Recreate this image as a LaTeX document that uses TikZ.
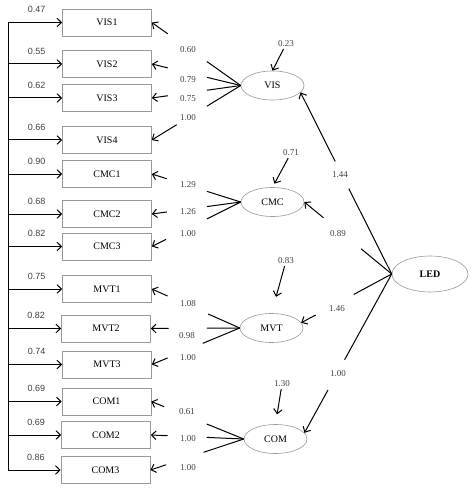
\documentclass[tikz,border=0pt]{standalone}
\usepackage{fontspec}
\setmainfont{Liberation Serif}
\newfontfamily\errfont{Liberation Sans}
\usepackage{tikz}
\usetikzlibrary{shapes.geometric}
\usetikzlibrary{arrows.meta}
\usetikzlibrary{calc}
\definecolor{boxgray}{rgb}{0.6,0.6,0.6}
\definecolor{textgray}{rgb}{0.25,0.25,0.25}

\begin{document}
\begin{tikzpicture}[
            > = {Straight Barb[length=4.5pt, width=8.5pt]}, % open arrow head
            x = 1pt, y = -1pt, % pixel grid, y runs down
            line width = 1pt % line style
        ]

        \tikzstyle{obs}=[
            draw = boxgray,
            line width = 0.6pt,
            minimum width = 89pt,
            minimum height = 27pt,
            inner sep = 0pt,
            font = \fontsize{10}{12}\selectfont
        ]
        \tikzstyle{lat}=[
            ellipse,
            draw = boxgray,
            line width = 0.6pt,
            minimum width = 63pt,
            minimum height = 29pt,
            inner sep = 0pt,
            font = \fontsize{10}{12}\selectfont
        ]
        \tikzstyle{err}=[font = \errfont\fontsize{9}{10}\selectfont, text = textgray, above = 6pt, xshift = 1.5pt]
        \tikzstyle{coef}=[font = \fontsize{9}{10}\selectfont, text = textgray, inner sep = 1.5pt]

        \useasboundingbox (0,0) rectangle (474,489);

	% indicators
        \node[obs] (VIS1) at (107,22.5) {VIS1};
        \node[obs] (VIS2) at (107,64) {VIS2};
        \node[obs] (VIS3) at (107,98) {VIS3};
        \node[obs] (VIS4) at (107,140) {VIS4};
        \node[obs] (CMC1) at (107,174) {CMC1};
        \node[obs] (CMC2) at (107,214) {CMC2};
        \node[obs] (CMC3) at (107,246.5) {CMC3};
        \node[obs] (MVT1) at (107,289) {MVT1};
        \node[obs] (MVT2) at (106,328.5) {MVT2};
        \node[obs] (MVT3) at (107,364.5) {MVT3};
        \node[obs] (COM1) at (106.5,401.5) {COM1};
        \node[obs] (COM2) at (106,435) {COM2};
        \node[obs] (COM3) at (105.5,470) {COM3};

        % factors
        \node[lat] (VIS) at (272.5,85.5) {VIS};
        \node[lat] (CMC) at (272.5,202) {CMC};
        \node[lat] (MVT) at (271.5,328) {MVT};
        \node[lat] (COM) at (275.5,439) {COM};
        \node[lat, minimum width = 76pt, minimum height = 36pt,
              font = \fontsize{10}{12}\selectfont\bfseries] (LED) at (430,274) {LED};

        % error terms
        \coordinate (E) at (8,0);
        \draw (E |- VIS1.west) -- (E |- COM3.west);
        \draw[->] (E |- VIS1.west) -- node[err] {0.47} (VIS1.west);
        \draw[->] (E |- VIS2.west) -- node[err] {0.55} (VIS2.west);
        \draw[->] (E |- VIS3.west) -- node[err] {0.62} (VIS3.west);
        \draw[->] (E |- VIS4.west) -- node[err] {0.66} (VIS4.west);
        \draw[->] (E |- CMC1.west) -- node[err] {0.90} (CMC1.west);
        \draw[->] (E |- CMC2.west) -- node[err] {0.68} (CMC2.west);
        \draw[->] (E |- CMC3.west) -- node[err] {0.82} (CMC3.west);
        \draw[->] (E |- MVT1.west) -- node[err] {0.75} (MVT1.west);
        \draw[->] (E |- MVT2.west) -- node[err] {0.82} (MVT2.west);
        \draw[->] (E |- MVT3.west) -- node[err] {0.74} (MVT3.west);
        \draw[->] (E |- COM1.west) -- node[err] {0.69} (COM1.west);
        \draw[->] (E |- COM2.west) -- node[err] {0.69} (COM2.west);
        \draw[->] (E |- COM3.west) -- node[err] {0.86} (COM3.west);

        % loadings
        \draw (VIS.west) -- ($(VIS.west)!.38!(VIS1.east)$);
        \draw[->] ($(VIS.west)!.82!(VIS1.east)$) -- (VIS1.east);
        \draw (VIS.west) -- ($(VIS.west)!.38!(VIS2.east)$);
        \draw[->] ($(VIS.west)!.82!(VIS2.east)$) -- (VIS2.east);
        \draw (VIS.west) -- ($(VIS.west)!.38!(VIS3.east)$);
        \draw[->] ($(VIS.west)!.82!(VIS3.east)$) -- (VIS3.east);
        \draw (VIS.west) -- ($(VIS.west)!.38!(VIS4.east)$);
        \draw[->] ($(VIS.west)!.72!(VIS4.east)$) -- (VIS4.east);

        \draw (CMC.west) -- ($(CMC.west)!.38!(CMC1.east)$);
        \draw[->] ($(CMC.west)!.83!(CMC1.east)$) -- (CMC1.east);
        \draw (CMC.west) -- ($(CMC.west)!.38!(CMC2.east)$);
        \draw[->] ($(CMC.west)!.83!(CMC2.east)$) -- (CMC2.east);
        \draw (CMC.west) -- ($(CMC.west)!.38!(CMC3.east)$);
        \draw[->] ($(CMC.west)!.84!(CMC3.east)$) -- (CMC3.east);

        \draw (MVT.west) -- ($(MVT.west)!.36!(MVT1.east)$);
        \draw[->] ($(MVT.west)!.82!(MVT1.east)$) -- (MVT1.east);
        \draw (MVT.west) -- ($(MVT.west)!.37!(MVT2.east)$);
        \draw[->] ($(MVT.west)!.80!(MVT2.east)$) -- (MVT2.east);
        \draw (MVT.west) -- ($(MVT.west)!.42!(MVT3.east)$);
        \draw[->] ($(MVT.west)!.82!(MVT3.east)$) -- (MVT3.east);

        \draw (COM.west) -- ($(COM.west)!.40!(COM1.east)$);
        \draw[->] ($(COM.west)!.86!(COM1.east)$) -- (COM1.east);
        \draw (COM.west) -- ($(COM.west)!.40!(COM2.east)$);
        \draw[->] ($(COM.west)!.82!(COM2.east)$) -- (COM2.east);
        \draw (COM.west) -- ($(COM.west)!.43!(COM3.east)$);
        \draw[->] ($(COM.west)!.83!(COM3.east)$) -- (COM3.east);

        \node[coef] (vis1l) at (188,50) {0.60};
        \node[coef] (vis2l) at (188,80) {0.79};
        \node[coef] (vis3l) at (188,99) {0.75};
        \node[coef] (vis4l) at (188,118) {1.00};
        \node[coef] (cmc1l) at (188,185) {1.29};
        \node[coef] (cmc2l) at (188,212) {1.26};
        \node[coef] (cmc3l) at (188,234) {1.00};
        \node[coef] (mvt1l) at (188,304) {1.08};
        \node[coef] (mvt2l) at (187,336) {0.98};
        \node[coef] (mvt3l) at (188,358) {1.00};
        \node[coef] (com1l) at (187,412) {0.61};
        \node[coef] (com2l) at (188,439) {1.00};
        \node[coef] (com3l) at (188,468) {1.00};

        % second order paths
        \draw (LED.west) -- ($(LED.west)!.47!(VIS.-14)$);
        \draw[->] ($(LED.west)!.62!(VIS.-14)$) -- (VIS.-14);
        \draw (LED.west) -- ($(LED.west)!.35!(CMC.east)$);
        \draw[->] ($(LED.west)!.78!(CMC.east)$) -- (CMC.east);
        \draw (LED.west) -- ($(LED.west)!.42!(MVT.10)$);
        \draw[->] ($(LED.west)!.84!(MVT.10)$) -- (MVT.10);
        \draw (LED.west) -- ($(LED.west)!.54!(COM.12)$);
        \draw[->] ($(LED.west)!.73!(COM.12)$) -- (COM.12);

        \node[coef] (visg) at (340,175) {1.44};
        \node[coef] (cmcg) at (338,234) {0.89};
        \node[coef] (mvtg) at (337,309) {1.46};
        \node[coef] (comg) at (338,374) {1.00};

        % disturbances
        \node[coef] (dVIS) at (286,44) {0.23};
        \node[coef] (dCMC) at (291,153) {0.71};
        \node[coef] (dMVT) at (286,261) {0.83};
        \node[coef] (dCOM) at (282,384) {1.30};

        \draw[->] (dVIS) -- (VIS.north);
        \draw[->, shorten > = 4pt] (dCMC) -- (CMC.north);
        \draw[->, shorten > = 17pt] (dMVT) -- (MVT.north);
        \draw[->, shorten > = 10pt] (dCOM) -- (COM.north);

  \end{tikzpicture}
\end{document}
